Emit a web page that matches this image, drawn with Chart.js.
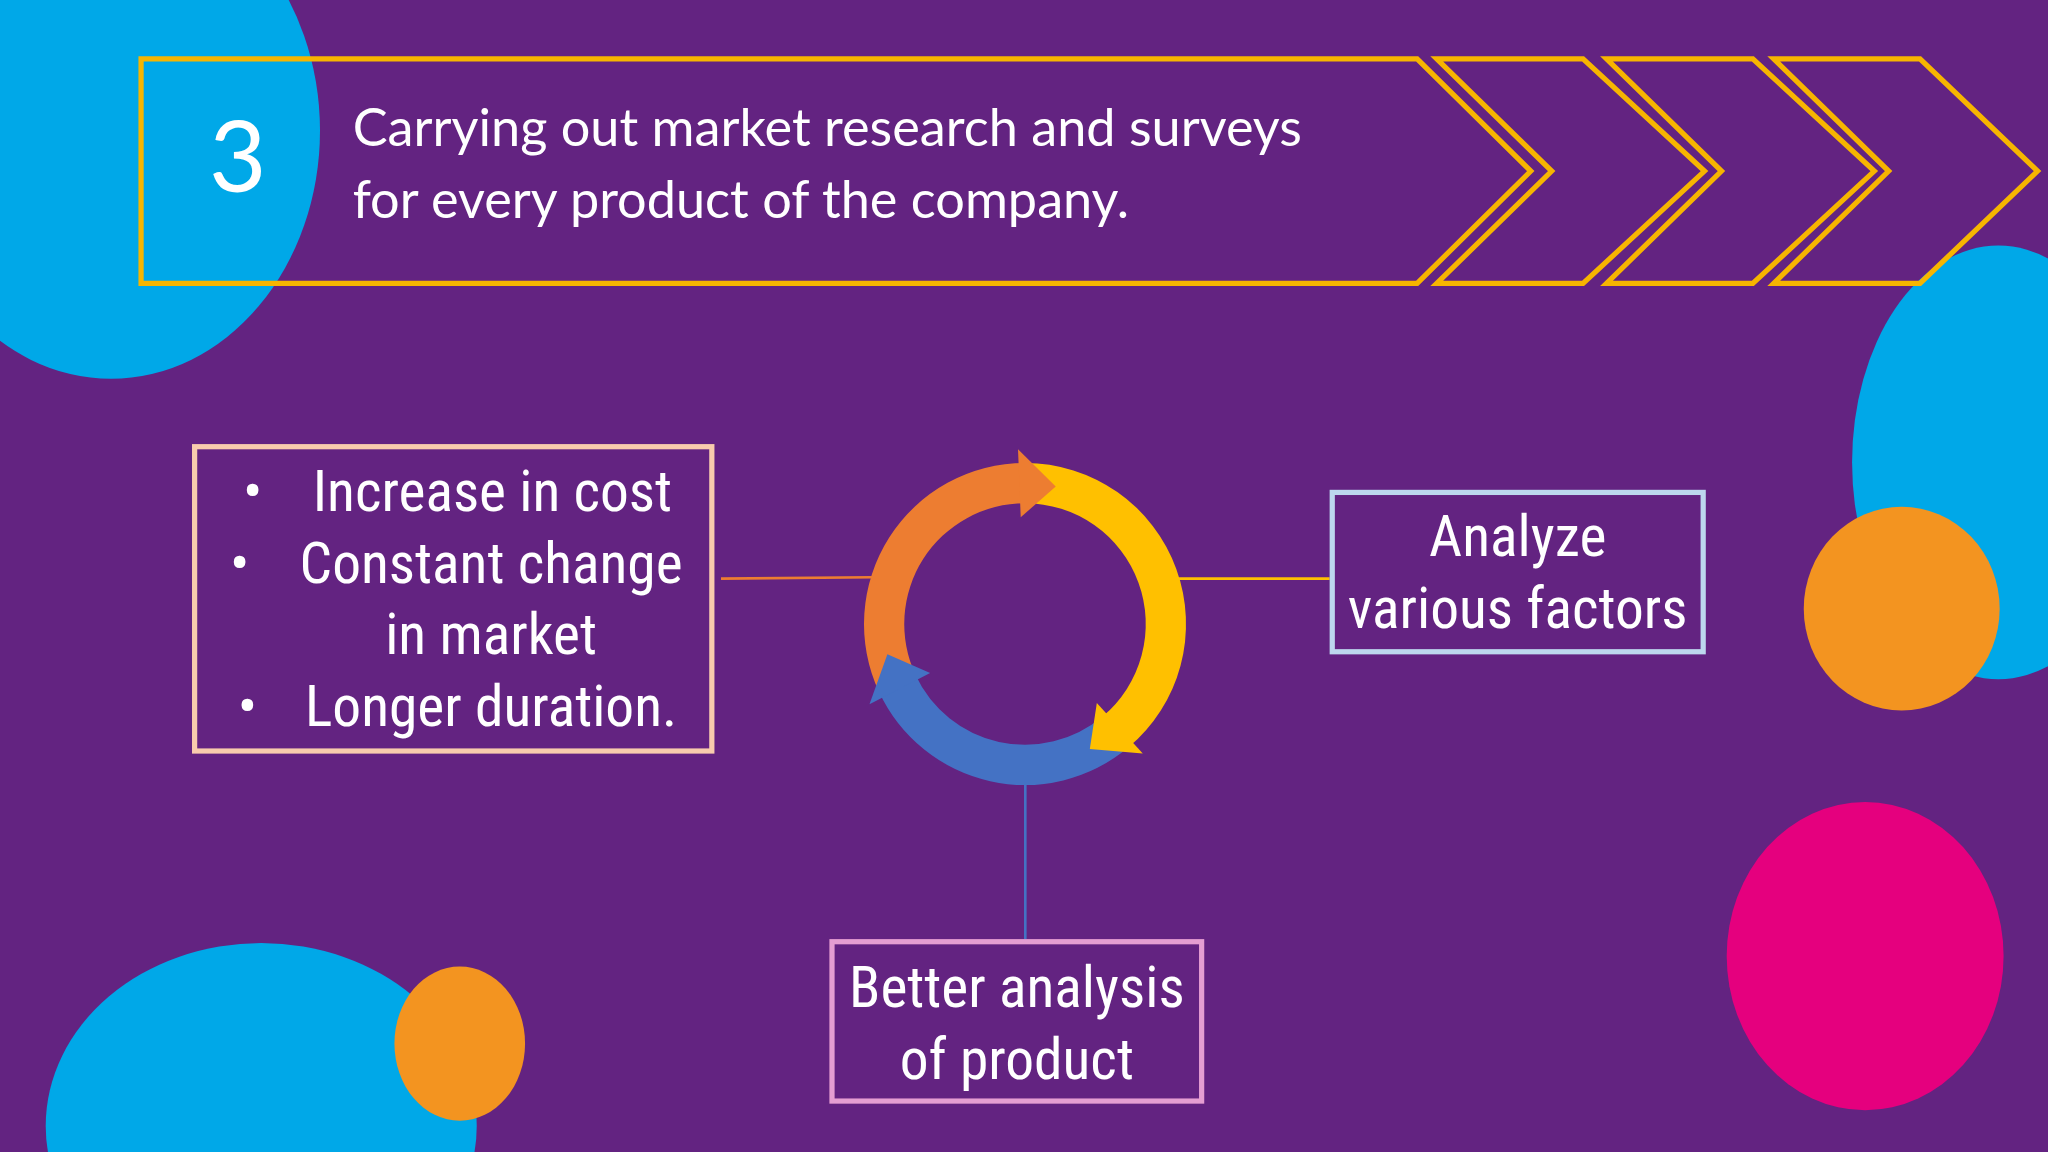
<!DOCTYPE html>
<html><head><meta charset="utf-8">
<script src="https://cdn.jsdelivr.net/npm/chart.js@4"></script>
<style>
html,body{margin:0;padding:0;width:2048px;height:1152px;overflow:hidden;background:#632381;}
#c{position:absolute;left:0;top:0;}
#ov{position:absolute;left:0;top:0;width:1568px;height:882px;transform:scale(1.306122);transform-origin:0 0;color:#fff;}
.t{position:absolute;white-space:nowrap;}
.n{font-family:"Liberation Sans Narrow","Arial Narrow","Roboto Condensed",sans-serif;font-size:44px;line-height:55px;}
.box{position:absolute;border:4px solid;box-sizing:border-box;}
</style></head><body>
<canvas id="c" width="2048" height="1152"></canvas>
<div id="ov">
  <div class="t" style="left:160px;top:72px;font-family:Lato,'Open Sans',sans-serif;font-size:76px;">3</div>
  <div class="t" style="left:270px;top:70px;font-family:Lato,'Open Sans',sans-serif;font-size:40px;line-height:55px;">Carrying out market research and surveys<br>for every product of the company.</div>

  <div class="box" style="left:147px;top:340px;width:400px;height:237px;border-color:#F8CBAD;"></div>
  <div class="t n" style="left:186px;top:349px;">•</div>
  <div class="t n" style="left:176px;top:404px;">•</div>
  <div class="t n" style="left:182px;top:514px;">•</div>
  <div class="t n" style="left:200px;top:349px;width:354px;text-align:center;">Increase in cost</div>
  <div class="t n" style="left:200px;top:404px;width:352px;text-align:center;">Constant change</div>
  <div class="t n" style="left:200px;top:459px;width:352px;text-align:center;">in market</div>
  <div class="t n" style="left:200px;top:514px;width:352px;text-align:center;">Longer duration.</div>

  <div class="box" style="left:1018px;top:375px;width:288px;height:126px;border-color:#BDD7EE;"></div>
  <div class="t n" style="left:1018px;top:384px;width:288px;text-align:center;">Analyze<br>various factors</div>

  <div class="box" style="left:635px;top:719px;width:287px;height:126px;border-color:#E59ED2;"></div>
  <div class="t n" style="left:635px;top:729px;width:287px;text-align:center;">Better analysis<br>of product</div>
</div>
<script>
const categories = ["Analyze", "Better analysis", "Research"];
const values = [140, 105, 115];
const colors = ["#FFC000", "#4472C4", "#ED7D31"];
const S = 2048/1568;

const deco = {
  id:'deco',
  beforeDraw(chart){
    const ctx = chart.ctx;
    ctx.save();
    ctx.fillStyle = '#632381'; ctx.fillRect(0,0,2048,1152);
    ctx.scale(S,S);
    const ell=(x,y,rx,ry,c)=>{ctx.fillStyle=c;ctx.beginPath();ctx.ellipse(x,y,rx,ry,0,0,Math.PI*2);ctx.fill();};
    ell(85,100,160,190,'#00A8E8');
    ell(1530,354,112,166,'#00A8E8');
    ell(1456,466,75,78,'#F39420');
    ell(1428,732,106,118,'#E5007E');
    ell(200,862,165,140,'#00A8E8');
    ell(352,799,50,59,'#F39420');
    // banner
    ctx.strokeStyle='#F7B500'; ctx.lineWidth=4; ctx.lineJoin='miter';
    ctx.beginPath();
    ctx.moveTo(108,45);ctx.lineTo(1085,45);ctx.lineTo(1172,131);ctx.lineTo(1085,217);ctx.lineTo(108,217);ctx.closePath();ctx.stroke();
    [1100,1230,1358].forEach((x0,i)=>{
      const w = i==2?202:205;
      ctx.beginPath();
      ctx.moveTo(x0,45);ctx.lineTo(x0+112,45);ctx.lineTo(x0+w,131);ctx.lineTo(x0+112,217);ctx.lineTo(x0,217);ctx.lineTo(x0+88,131);ctx.closePath();ctx.stroke();
    });
    // connectors
    ctx.lineWidth=2;
    ctx.strokeStyle='#ED7D31';ctx.beginPath();ctx.moveTo(552,443);ctx.lineTo(668,442);ctx.stroke();
    ctx.strokeStyle='#FFC000';ctx.beginPath();ctx.moveTo(902,443);ctx.lineTo(1018,443);ctx.stroke();
    ctx.strokeStyle='#4472C4';ctx.beginPath();ctx.moveTo(785,600);ctx.lineTo(785,719);ctx.stroke();
    ctx.restore();
  },
  afterDatasetsDraw(chart){
    const ctx = chart.ctx;
    const meta = chart.getDatasetMeta(0);
    meta.data.forEach((a,i)=>{
      const e=a.endAngle, ri=a.innerRadius-14, ro=a.outerRadius+14, rm=(a.innerRadius+a.outerRadius)/2;
      const b=e-0.04, t=e+0.22;
      ctx.fillStyle=colors[i];
      ctx.beginPath();
      ctx.moveTo(a.x+ri*Math.cos(b),a.y+ri*Math.sin(b));
      ctx.lineTo(a.x+ro*Math.cos(b),a.y+ro*Math.sin(b));
      ctx.lineTo(a.x+rm*Math.cos(t),a.y+rm*Math.sin(t));
      ctx.closePath();ctx.fill();
    });
  }
};

new Chart(document.getElementById('c'), {
  type:'doughnut',
  data:{labels:categories,datasets:[{data:values,backgroundColor:colors,borderWidth:0}]},
  options:{
    responsive:false, animation:false, devicePixelRatio:1,
    cutout:'75%', rotation:0,
    layout:{padding:{left:864,right:862,top:463,bottom:367}},
    plugins:{legend:{display:false},tooltip:{enabled:false}}
  },
  plugins:[deco]
});
</script>
</body></html>
